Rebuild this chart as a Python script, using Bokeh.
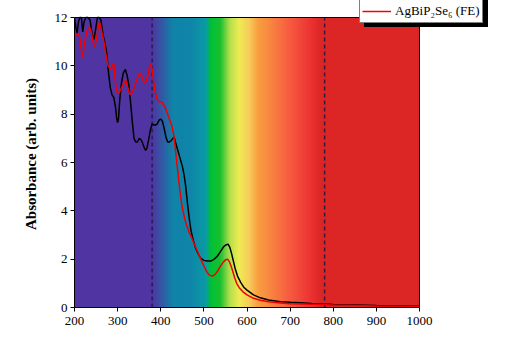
import numpy as np
from bokeh.plotting import figure
from bokeh.models import Legend, LegendItem, FixedTicker, Range1d
from bokeh.embed import file_html
from bokeh.resources import INLINE

# ---------------- data ----------------
pe_wl = [200, 203, 206, 209, 212, 216, 219, 222, 226, 231, 236, 241, 245, 249, 253, 257, 261, 266, 271, 275,
         279, 283, 287, 291, 295, 298, 300, 302, 305, 309, 313, 318, 322, 326, 330, 334, 338, 342, 346, 350,
         354, 358, 362, 365, 368, 372, 376, 380, 384, 388, 392, 396, 400, 404, 408, 412, 416, 420, 424, 428,
         431, 434, 438, 442, 446, 450, 454, 458, 462, 466, 470, 475, 480, 486, 492, 500, 508, 516, 524, 531,
         538, 546, 552, 556, 560, 564, 568, 573, 578, 585, 592, 600, 615, 631, 650, 678, 700, 724, 750, 777,
         800, 850, 900, 950, 1000]
pe_abs = [12.1, 11.6, 11.35, 11.8, 12.3, 12.2, 11.4, 11.8, 12.3, 12.4, 11.9, 11.3, 11.1, 11.5, 12.1, 12.3, 11.9, 11.3, 10.9, 10.5,
          9.7, 9.1, 8.8, 8.7, 8.3, 7.8, 7.65, 7.8, 8.6, 9.3, 9.7, 9.85, 9.6, 9.2, 8.5, 7.7, 7.0, 6.85, 6.85, 7.0,
          6.95, 6.8, 6.6, 6.5, 6.6, 6.95, 7.35, 7.6, 7.55, 7.55, 7.6, 7.75, 7.8, 7.7, 7.4, 7.05, 6.85, 6.85, 6.9, 7.0,
          7.05, 6.85, 6.6, 6.35, 6.1, 5.85, 5.5, 5.0, 4.3, 3.7, 3.2, 2.8, 2.5, 2.25, 2.05, 1.95, 1.92, 1.92, 2.0, 2.12,
          2.3, 2.52, 2.6, 2.62, 2.5, 2.25, 1.95, 1.58, 1.3, 1.05, 0.85, 0.72, 0.52, 0.4, 0.31, 0.24, 0.22, 0.2, 0.17, 0.14,
          0.12, 0.1, 0.08, 0.07, 0.06]

fe_wl = [200, 203, 206, 209, 212, 215, 218, 220, 222, 225, 229, 233, 236, 239, 243, 246, 249, 252, 255, 258,
         261, 264, 267, 270, 274, 278, 282, 286, 289, 291, 293, 296, 300, 304, 308, 312, 316, 319, 322, 325,
         329, 333, 338, 343, 348, 352, 355, 358, 362, 366, 370, 374, 377, 380, 383, 386, 390, 394, 398, 402,
         406, 410, 414, 418, 422, 426, 430, 433, 436, 440, 444, 448, 452, 456, 460, 465, 470, 476, 482, 488,
         494, 500, 506, 512, 519, 525, 531, 538, 546, 551, 555, 559, 563, 567, 571, 576, 582, 590, 600, 615,
         631, 650, 678, 700, 755, 800, 850, 900, 1000]
fe_abs = [11.45, 11.35, 11.3, 11.3, 11.2, 10.8, 10.35, 10.4, 10.8, 11.1, 11.45, 11.6, 11.55, 11.4, 11.0, 10.8, 10.95, 11.25, 11.6, 11.8,
          11.6, 11.35, 11.1, 10.8, 10.35, 10.0, 9.9, 9.9, 10.05, 10.1, 9.7, 9.15, 8.85, 8.9, 9.05, 9.2, 9.35, 9.4, 9.2, 9.0,
          8.8, 8.9, 9.1, 9.35, 9.6, 9.7, 9.6, 9.45, 9.3, 9.35, 9.6, 9.95, 10.1, 9.85, 9.4, 9.0, 8.7, 8.55, 8.5, 8.5,
          8.4, 8.3, 8.1, 7.9, 7.7, 7.5, 7.15, 6.7, 6.2, 5.55, 4.9, 4.35, 3.95, 3.65, 3.4, 3.15, 2.95, 2.7, 2.45, 2.2,
          1.95, 1.72, 1.5, 1.35, 1.3, 1.35, 1.48, 1.7, 1.9, 1.98, 2.0, 1.9, 1.72, 1.5, 1.25, 1.0, 0.82, 0.66, 0.52, 0.38,
          0.3, 0.24, 0.19, 0.16, 0.13, 0.1, 0.08, 0.06, 0.05]

series_labels = ["AgBiP\u2082Se\u2086 (PE)", "AgBiP\u2082Se\u2086 (FE)"]
x_ticks = [200, 300, 400, 500, 600, 700, 800, 900, 1000]
y_ticks = [0, 2, 4, 6, 8, 10, 12]
marker_wl = [380, 780]

# spectrum background colour stops (wavelength, colour)
bg_stop_wl = [200, 380, 428, 470, 505, 516, 538, 560, 582, 605, 625, 650, 700, 752, 772, 1000]
bg_stop_col = ["#5035A2", "#5035A2", "#1183A8", "#0F86AA", "#0A9CA4", "#00C034", "#18C030", "#B4E04C",
               "#F0EC52", "#F8CC5C", "#F8A040", "#F88A40", "#F85A40", "#EA3030", "#DC2626", "#DC2626"]

X0, X1 = x_ticks[0], x_ticks[-1]
Y0, Y1 = y_ticks[0], y_ticks[-1]

# ---------------- figure ----------------
# The frame is widened to the window's right/top edge so the legend (which in the
# reference sticks out of the axes box) is not clipped; the data box itself is
# drawn at 200..1000 x 0..12 as in the reference.
FRAME_W, FRAME_H = 437, 307
PX_PER_NM = 345 / (X1 - X0)
PX_PER_UNIT = 290 / (Y1 - Y0)
SERIF = "Liberation Serif"
p = figure(output_backend="svg", toolbar_location=None,
           frame_width=FRAME_W, frame_height=FRAME_H,
           min_border_left=74, min_border_right=0, min_border_top=0, min_border_bottom=33,
           x_range=Range1d(X0, X0 + FRAME_W / PX_PER_NM),
           y_range=Range1d(Y0, Y0 + FRAME_H / PX_PER_UNIT))
p.background_fill_color = "white"
p.border_fill_color = "white"
p.outline_line_color = None
p.grid.visible = False

# background gradient image
def hex2rgb(h):
    return [int(h[i:i + 2], 16) for i in (1, 3, 5)]

cols = np.array([hex2rgb(c) for c in bg_stop_col], dtype=float)
xs = np.linspace(X0, X1, 801)
img = np.empty((1, len(xs)), dtype=np.uint32)
view = img.view(dtype=np.uint8).reshape((1, len(xs), 4))
for k in range(3):
    view[0, :, k] = np.interp(xs, bg_stop_wl, cols[:, k]).astype(np.uint8)
view[0, :, 3] = 255
p.image_rgba(image=[img], x=X0, y=Y0, dw=X1 - X0, dh=Y1 - Y0)

for wl in marker_wl:
    p.segment(x0=wl, y0=Y0, x1=wl, y1=Y1, line_color="#221a44",
              line_dash="4 3", line_width=1.5, line_alpha=0.9)

# curves (clipped to the axes box, as in the reference)
r_pe = p.line(pe_wl, np.minimum(pe_abs, Y1), line_color="black", line_width=1.5)
r_fe = p.line(fe_wl, np.minimum(fe_abs, Y1), line_color="#F00000", line_width=1.5)

# top and right edges of the axes box
p.line(x=[X0, X1, X1], y=[Y1, Y1, Y0], line_color="black", line_width=1)

# axes
for ax in (p.xaxis[0], p.yaxis[0]):
    ax.axis_line_color = "black"
    ax.major_tick_line_color = "black"
    ax.major_tick_out = 4
    ax.major_tick_in = 0
    ax.minor_tick_line_color = None
    ax.major_label_text_font = SERIF
    ax.major_label_text_font_size = "13px"
    ax.major_label_text_color = "black"
p.xaxis.bounds = (X0, X1)
p.yaxis.bounds = (Y0, Y1)
p.xaxis.ticker = FixedTicker(ticks=x_ticks)
p.yaxis.ticker = FixedTicker(ticks=y_ticks)
p.xaxis.major_label_standoff = 5
p.yaxis.major_label_standoff = 3
p.yaxis.axis_label = "Absorbance (arb. units)"
p.yaxis.axis_label_text_font = SERIF
p.yaxis.axis_label_text_font_style = "bold"
p.yaxis.axis_label_text_font_size = "15px"
p.yaxis.axis_label_text_color = "black"
p.yaxis.axis_label_standoff = 13

# legend with drop shadow
def make_legend(loc, shadow):
    return Legend(items=[LegendItem(label=series_labels[0], renderers=[r_pe]),
                         LegendItem(label=series_labels[1], renderers=[r_fe])],
                  location=loc, orientation="vertical",
                  label_text_font=SERIF, label_text_font_size="13px",
                  label_text_color="black", glyph_width=29, glyph_height=18,
                  label_height=18, label_standoff=4, padding=2, spacing=1, margin=0,
                  border_line_color="black", border_line_width=1,
                  background_fill_color="black" if shadow else "white",
                  background_fill_alpha=1.0)

p.add_layout(make_legend((290, 280), True), "center")
p.add_layout(make_legend((285, 284), False), "center")

open("out.html", "w").write(file_html(p, INLINE))
